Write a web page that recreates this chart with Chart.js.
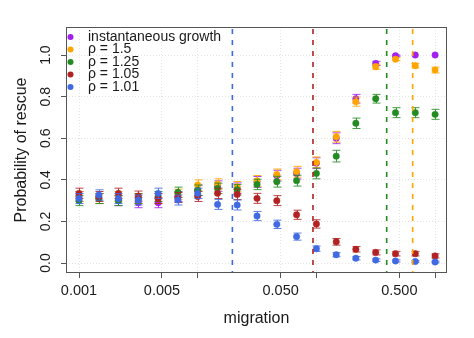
<!DOCTYPE html>
<html>
<head>
<meta charset="utf-8">
<script src="https://cdn.jsdelivr.net/npm/chart.js@4.4.1/dist/chart.umd.min.js"></script>
<style>
  html, body { margin: 0; padding: 0; background: #fff; }
</style>
</head>
<body>
<canvas id="rescueChart" width="474" height="338"></canvas>
<script>
// migration rates (log spaced, 6 per decade)
const migration = [0.001, 0.00147, 0.00215, 0.00316, 0.00464, 0.00681, 0.01, 0.0147, 0.0215,
                   0.0316, 0.0464, 0.0681, 0.1, 0.147, 0.215, 0.316, 0.464, 0.681, 1];

// probability of rescue per scenario
const instGrowth = [0.32, 0.31, 0.30, 0.29, 0.29, 0.32, 0.35, 0.37, 0.36, 0.39, 0.42, 0.43, 0.48, 0.60, 0.79, 0.96, 0.997, 1.0, 1.0];
const rho150 = [0.32, 0.31, 0.32, 0.31, 0.31, 0.33, 0.375, 0.38, 0.367, 0.395, 0.426, 0.439, 0.484, 0.607, 0.776, 0.944, 0.98, 0.949, 0.928];
const rho125 = [0.30, 0.31, 0.30, 0.31, 0.32, 0.34, 0.35, 0.359, 0.352, 0.378, 0.391, 0.396, 0.431, 0.514, 0.672, 0.79, 0.723, 0.723, 0.715];
const rho105 = [0.335, 0.32, 0.335, 0.322, 0.31, 0.315, 0.32, 0.335, 0.33, 0.311, 0.30, 0.232, 0.188, 0.102, 0.066, 0.051, 0.045, 0.045, 0.034];
const rho101 = [0.31, 0.327, 0.31, 0.303, 0.335, 0.303, 0.335, 0.282, 0.279, 0.226, 0.186, 0.127, 0.069, 0.04, 0.023, 0.014, 0.01, 0.007, 0.005];

// half widths of the 95% intervals
const instGrowthErr = [0.024, 0.024, 0.024, 0.024, 0.024, 0.024, 0.025, 0.025, 0.025, 0.026, 0.026, 0.026, 0.026, 0.026, 0.021, 0.010, 0.003, 0, 0];
const rho150Err = [0.024, 0.024, 0.024, 0.024, 0.024, 0.025, 0.025, 0.025, 0.025, 0.026, 0.026, 0.026, 0.026, 0.026, 0.022, 0.012, 0.007, 0.011, 0.014];
const rho125Err = [0.024, 0.024, 0.024, 0.024, 0.024, 0.025, 0.025, 0.025, 0.025, 0.025, 0.026, 0.026, 0.026, 0.028, 0.025, 0.021, 0.024, 0.024, 0.024];
const rho105Err = [0.025, 0.024, 0.025, 0.024, 0.024, 0.024, 0.024, 0.025, 0.025, 0.024, 0.024, 0.022, 0.020, 0.016, 0.013, 0.012, 0.011, 0.011, 0.010];
const rho101Err = [0.024, 0.025, 0.024, 0.024, 0.025, 0.024, 0.025, 0.024, 0.024, 0.022, 0.020, 0.017, 0.013, 0.010, 0.008, 0.006, 0.005, 0.004, 0.004];

// critical migration rates (dashed lines): rho 1.01, 1.05, 1.25, 1.5
const critMigration = [0.0196, 0.0936, 0.391, 0.647];

const xTicks = [0.001, 0.005, 0.01, 0.05, 0.1, 0.5, 1];
const xTickLabels = ['0.001', '0.005', '', '0.050', '', '0.500', ''];
const yTicks = [0, 0.2, 0.4, 0.6, 0.8, 1.0];
const yTickLabels = ['0.0', '0.2', '0.4', '0.6', '0.8', '1.0'];

const seriesNames = ['instantaneous growth', 'ρ = 1.5', 'ρ = 1.25', 'ρ = 1.05', 'ρ = 1.01'];
const seriesValues = [instGrowth, rho150, rho125, rho105, rho101];
const seriesErrors = [instGrowthErr, rho150Err, rho125Err, rho105Err, rho101Err];
const seriesColors = ['#a020f0', '#ffa500', '#228b22', '#b22222', '#4169e1'];
const critColors = ['#4169e1', '#b22222', '#228b22', '#ffa500'];

const FONT = '"Liberation Sans", Arial, Helvetica, sans-serif';
const INK = '#1a1a1a';
const AXIS = '#555555';

const datasets = seriesValues.map((vals, s) => ({
    label: seriesNames[s],
    data: vals.map((v, i) => ({ x: migration[i], y: v })),
    err: seriesErrors[s],
    backgroundColor: seriesColors[s],
    borderColor: seriesColors[s],
    borderWidth: 0.5,
    pointRadius: 3.2,
    showLine: false,
    order: seriesValues.length - s   // blue ends up on top
}));

// vertical error bars with caps, drawn right under each dataset's points
const errorBars = {
    id: 'errorBars',
    beforeDatasetDraw(chart, args) {
        const ds = chart.data.datasets[args.index];
        const xs = chart.scales.x, ys = chart.scales.y;
        const ctx = chart.ctx;
        ctx.save();
        ctx.strokeStyle = ds.borderColor;
        ctx.globalAlpha = 0.85;
        ctx.lineWidth = 1;
        ds.data.forEach((pt, i) => {
            const e = ds.err[i];
            if (!e) return;
            const px = Math.round(xs.getPixelForValue(pt.x)) + 0.5;
            const top = ys.getPixelForValue(pt.y + e);
            const bot = ys.getPixelForValue(pt.y - e);
            ctx.beginPath();
            ctx.moveTo(px, top); ctx.lineTo(px, bot);
            ctx.moveTo(px - 4, top); ctx.lineTo(px + 4, top);
            ctx.moveTo(px - 4, bot); ctx.lineTo(px + 4, bot);
            ctx.stroke();
        });
        ctx.restore();
    }
};

// dashed verticals at the critical migration rates
const critLines = {
    id: 'critLines',
    afterDatasetsDraw(chart) {
        const { ctx, chartArea } = chart;
        const xs = chart.scales.x;
        ctx.save();
        ctx.lineWidth = 1.6;
        ctx.setLineDash([5, 6]);
        critMigration.forEach((m, i) => {
            const px = xs.getPixelForValue(m);
            ctx.strokeStyle = critColors[i];
            ctx.beginPath();
            ctx.moveTo(px, chartArea.top + 2);
            ctx.lineTo(px, chartArea.bottom);
            ctx.stroke();
        });
        ctx.restore();
    }
};

// box round the plot region plus the legend in its top left corner
const frameAndLegend = {
    id: 'frameAndLegend',
    afterDraw(chart) {
        const { ctx, chartArea } = chart;
        ctx.save();
        ctx.strokeStyle = AXIS;
        ctx.lineWidth = 1;
        ctx.strokeRect(chartArea.left + 0.5, chartArea.top + 0.5,
                       chartArea.right - chartArea.left - 1, chartArea.bottom - chartArea.top - 1);

        ctx.font = '14px ' + FONT;
        ctx.textBaseline = 'middle';
        ctx.textAlign = 'left';
        seriesNames.forEach((name, i) => {
            const y = chartArea.top + 10 + i * 12.5;
            ctx.fillStyle = seriesColors[i];
            ctx.beginPath();
            ctx.arc(chartArea.left + 4.5, y, 3, 0, Math.PI * 2);
            ctx.fill();
            ctx.fillStyle = INK;
            ctx.fillText(name, chartArea.left + 22, y);
        });
        ctx.restore();
    }
};

const gridOpts = {
    color: '#e4e4e4',
    lineWidth: 1,
    tickColor: AXIS,
    tickLength: 5,
    drawOnChartArea: true
};

new Chart(document.getElementById('rescueChart'), {
    type: 'scatter',
    data: { datasets: datasets },
    options: {
        responsive: false,
        animation: false,
        events: [],
        layout: { padding: { top: 27, right: 27, left: 0, bottom: 0 } },
        plugins: {
            legend: { display: false },
            tooltip: { enabled: false }
        },
        scales: {
            x: {
                type: 'logarithmic',
                bounds: 'data',
                min: 0.000777,
                max: 1.26,
                afterBuildTicks: (s) => { s.ticks = xTicks.map(v => ({ value: v })); },
                afterFit: (s) => { s.height = 65; },
                ticks: {
                    autoSkip: false,
                    maxRotation: 0,
                    minRotation: 0,
                    padding: 4,
                    color: INK,
                    font: { family: FONT, size: 14.5 },
                    callback: (v, i) => xTickLabels[i]
                },
                grid: gridOpts,
                border: { display: false, dash: [1, 2] },
                title: {
                    display: true,
                    text: 'migration',
                    color: INK,
                    font: { family: FONT, size: 16 },
                    padding: { top: 0, bottom: 10 }
                }
            },
            y: {
                type: 'linear',
                bounds: 'data',
                min: -0.048,
                max: 1.135,
                afterBuildTicks: (s) => { s.ticks = yTicks.map(v => ({ value: v })); },
                afterFit: (s) => { s.width = 66; },
                ticks: {
                    autoSkip: false,
                    minRotation: 90,
                    maxRotation: 90,
                    crossAlign: 'center',
                    padding: 5,
                    color: INK,
                    font: { family: FONT, size: 14 },
                    callback: (v, i) => yTickLabels[i]
                },
                grid: gridOpts,
                border: { display: false, dash: [1, 2] },
                title: {
                    display: true,
                    text: 'Probability of rescue',
                    color: INK,
                    font: { family: FONT, size: 16 },
                    padding: { top: 12, bottom: 0 }
                }
            }
        }
    },
    plugins: [errorBars, critLines, frameAndLegend]
});
</script>
</body>
</html>
